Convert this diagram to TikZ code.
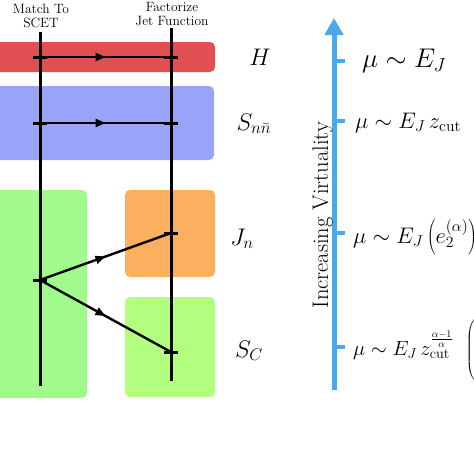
\RequirePackage{fix-cm}
\documentclass[tikz,border=0pt]{standalone}
\usetikzlibrary{arrows.meta,decorations.markings}
\definecolor{hred}{RGB}{224,80,82}
\definecolor{sblue}{RGB}{153,163,248}
\definecolor{jgreen}{RGB}{160,250,140}
\definecolor{jorange}{RGB}{251,176,96}
\definecolor{scgreen}{RGB}{178,255,128}
\definecolor{axisblue}{RGB}{74,168,236}
\tikzset{
  region/.style={rounded corners=5pt, draw=none},
  wline/.style={line width=3pt, black},
  prop/.style={line width=2.4pt, black, postaction={decorate},
    decoration={markings, mark=at position 0.5 with {\arrow{Triangle[width=8pt,length=10pt]}}}},
  vtick/.style={line width=3pt, black},
  atick/.style={line width=3.5pt, axisblue},
  toplabel/.style={font=\fontsize{13.5}{14.5}\selectfont, align=center, inner sep=0pt},
  biglabel/.style={font=\fontsize{24}{28}\selectfont, inner sep=0pt, anchor=base},
  scalelabel/.style={inner sep=0pt, anchor=base west},
}
\begin{document}
\begin{tikzpicture}[x=1pt,y=-1pt]
\useasboundingbox (0,0) rectangle (474,474);
\clip (0,0) rectangle (474,474);
% regions
\fill[region, hred] (-10,42) rectangle (215,72);
\fill[region, sblue] (-10,86) rectangle (214,160);
\fill[region, jgreen] (-10,190) rectangle (87,398);
\fill[region, jorange] (125,190) rectangle (215,277);
\fill[region, scgreen] (125,297) rectangle (215,397);
% top labels
\node[toplabel] (match) at (41,16) {Match To\\SCET};
\node[toplabel] (fact) at (172,14) {Factorize\\Jet Function};
% world lines
\coordinate (Ltop) at (40,32);
\coordinate (Lbot) at (40,386);
\coordinate (Rtop) at (171,28);
\coordinate (Rbot) at (171,381);
\draw[wline] (Ltop) -- (Lbot);
\draw[wline] (Rtop) -- (Rbot);
% vertices
\coordinate (h1) at (40,57);
\coordinate (h2) at (171,57);
\coordinate (s1) at (40,123);
\coordinate (s2) at (171,123);
\coordinate (v) at (40,280);
\coordinate (j) at (171,233);
\coordinate (c) at (171,352);
\draw[prop] (h1) -- (h2);
\draw[prop] (s1) -- (s2);
\draw[prop] (v) -- (j);
\draw[prop] (v) -- (c);
\foreach \p in {h1,h2,s1,s2,v,j,c}
  \draw[vtick] ([xshift=-7pt]\p) -- ([xshift=7pt]\p);
% region labels
\node[biglabel] (H) at (260,65) {$H$};
\node[biglabel] (S) at (254,130) {$S_{n\bar n}$};
\node[biglabel] (J) at (242,245) {$J_n$};
\node[biglabel] (SC) at (249,357) {$S_C$};
% virtuality axis
\coordinate (abot) at (334,390);
\coordinate (atop) at (334,18);
\draw[line width=5pt, axisblue, -{Triangle[width=18pt,length=17pt]}] (abot) -- (atop);
\foreach \y in {61,121,233,347}
  \draw[atick] (332,\y) -- (345,\y);
\node[font=\fontsize{22.5}{25}\selectfont, rotate=90, anchor=base, inner sep=0pt] (inc) at (328,215) {Increasing Virtuality};
\node[scalelabel, font=\fontsize{27}{31}\selectfont] (m1) at (362,67) {$\mu\sim E_J$};
\node[scalelabel, font=\fontsize{22.5}{26}\selectfont] (m2) at (355,128) {$\mu\sim E_J\, z_{\rm cut}$};
\node[scalelabel, font=\fontsize{22.5}{26}\selectfont] (m3) at (353,243) {$\mu\sim E_J\left(e_2^{(\alpha)}\right)^{1/\alpha}$};
\node[scalelabel, font=\fontsize{20.5}{24}\selectfont] (m4) at (353,355) {$\mu\sim E_J\, z_{\rm cut}^{\frac{\alpha-1}{\alpha}}\hspace{0.45em}\left({\displaystyle\frac{e_2^{(\alpha)}}{z_{\rm cut}}}\right)^{1/\alpha}$};
\end{tikzpicture}
\end{document}
